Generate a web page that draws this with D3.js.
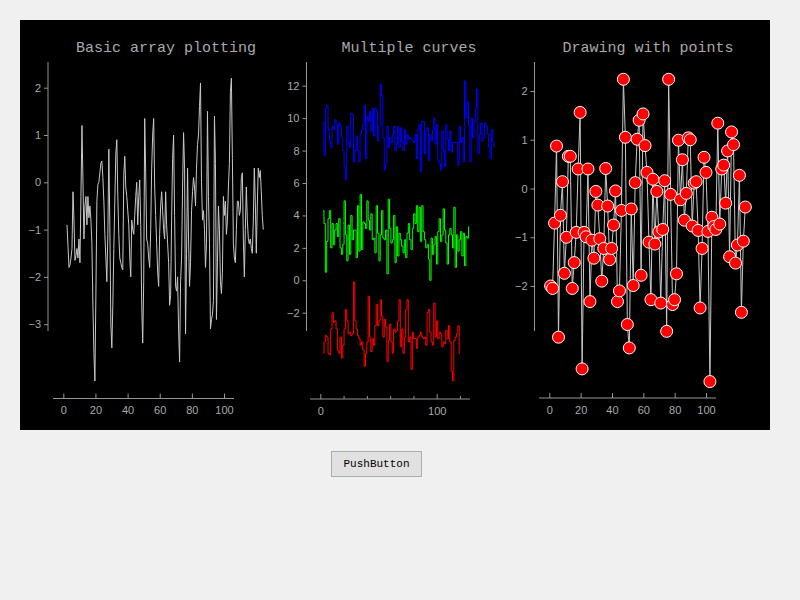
<!DOCTYPE html>
<html><head><meta charset="utf-8">
<script src="https://cdn.jsdelivr.net/npm/d3@7"></script>
<style>
body{margin:0;background:#f0f0f0;width:800px;height:600px;overflow:hidden;position:relative;font-family:"Liberation Mono",monospace}
#btn{position:absolute;left:331px;top:451px;width:89px;height:24px;border:1px solid #adadad;background:#e1e1e1;font:11px "Liberation Mono",monospace;display:flex;align-items:center;justify-content:center;color:#000}
</style></head>
<body>
<svg id="chart" width="800" height="600"></svg>
<div id="btn">PushButton</div>
<script>
// plot 1: one noisy curve, x starts at 2.3 with step 0.62
var basicY = [-0.9,-1.35,-1.8,-1.75,-1.6,-1.4,-0.2,-0.8,-1.65,-1.55,-1.4,-1.6,-1.2,-1.7,-0.3,1.2,0.05,-1.2,-0.5,-0.3,-0.9,-0.3,-0.75,-0.5,-0.8,-1.3,-2.6,-3.6,-4.2,-2.4,-0.4,-0.05,0.0,0.2,0.4,0.45,0.1,-0.4,-1.1,-1.6,-2.1,-1.1,0.7,-0.9,-3.0,-3.5,-2.6,-1.4,-0.4,0.6,0.9,-0.3,-1.1,-1.6,-1.7,-1.8,-1.85,0.15,0.55,-0.1,-0.3,-0.6,-0.9,-1.6,-2.0,-0.8,-1.0,-1.1,-0.7,-0.3,0.0,-0.9,-0.3,0.05,-0.9,-2.6,-3.4,-2.1,1.35,0.2,-1.2,-1.3,-1.6,-1.8,-1.0,0.3,1.0,1.35,-0.1,-0.7,-1.3,-1.9,-2.2,-1.1,-0.5,-0.2,-0.6,-1.0,-1.2,-0.2,-0.9,-1.3,-1.7,-2.6,-2.4,-0.8,0.5,1.0,-0.7,-2.2,-2.3,-2.0,-3.1,-3.8,-2.1,-1.6,-0.1,1.05,0.3,-3.2,-1.5,0.3,-1.2,-2.2,-1.7,-0.6,-0.2,0.1,-0.1,-0.5,0.3,0.8,1.0,1.6,2.1,0.0,-0.8,-0.6,-1.0,-1.8,-1.3,1.5,-0.3,-1.3,-3.1,-2.9,-2.8,-2.5,1.4,0.4,-2.9,-1.7,-0.5,-1.0,-2.1,-2.35,-1.9,-0.3,-0.7,-0.4,-1.1,-0.8,-0.1,0.4,1.9,2.2,0.5,-1.3,-1.6,-1.7,-1.0,-0.4,-0.4,-0.7,-0.6,0.1,0.2,-1.2,-2.0,-1.0,-0.1,-0.8,-1.2,-1.3,-1.2,-1.4,-1.5,-0.8,0.3,-0.4,-1.5,-0.5,0.3,0.1,0.25,-0.2,-0.7,-1.0];
var basicX0 = 2.3, basicStep = 0.62;

// plot 2: three curves, x starts at 2.6 with step 1.15
var blueY = [9.8,7.7,10.6,10.8,9.3,8.6,8.2,9.5,9.3,9.9,9.6,8.4,9.7,9.5,8.8,8.0,7.0,6.2,9.5,8.5,8.2,10.3,10.2,7.3,8.0,8.9,8.0,7.3,9.0,9.3,9.6,10.8,7.5,10.1,9.8,10.4,9.2,10.6,8.9,10.6,10.4,8.6,9.5,12.1,11.4,8.8,6.8,7.2,9.5,8.2,8.8,8.5,9.0,9.5,8.0,8.4,9.5,8.2,9.4,8.5,8.0,9.3,8.4,9.0,8.7,8.8,8.7,8.6,8.5,9.0,7.5,9.3,9.6,6.7,9.8,9.8,7.8,9.2,9.4,7.4,9.0,8.6,9.3,10.0,8.4,9.6,7.4,7.2,6.8,9.2,8.0,7.0,9.6,8.7,8.0,9.2,7.9,8.5,8.5,8.5,8.5,7.1,9.5,8.5,8.8,7.3,12.3,10.0,11.0,9.5,7.3,10.0,8.8,9.8,10.6,11.8,7.8,9.0,9.7,8.6,8.8,9.7,9.5,9.0,8.2,7.5,9.3,8.5,8.2];
var greenY = [4.3,3.5,0.5,2.4,3.8,4.3,2.0,3.5,2.2,3.1,3.5,2.7,3.8,2.0,1.6,2.2,4.9,2.8,1.2,3.4,1.6,4.0,2.5,3.1,3.1,1.4,4.6,1.8,5.3,1.9,3.6,3.5,3.2,4.9,3.7,3.1,4.1,2.5,2.6,1.7,4.6,2.9,1.2,2.8,4.3,2.6,2.5,3.1,0.4,5.0,3.2,2.3,2.5,4.0,1.1,3.3,1.5,2.9,2.5,2.1,1.7,2.5,1.4,2.9,3.5,2.5,1.9,3.2,4.1,3.5,4.6,3.0,4.5,2.4,4.6,3.0,2.5,2.0,2.2,1.3,0.0,2.6,1.6,2.2,2.7,1.0,3.0,3.8,2.4,2.8,4.4,3.1,2.3,1.0,2.8,3.2,2.8,2.0,4.5,0.8,2.8,1.8,2.5,3.0,1.5,2.9,0.9,2.7,2.6,3.3];
var redY = [-4.5,-3.8,-3.4,-3.5,-4.5,-4.6,-3.0,-2.0,-2.6,-2.5,-3.0,-4.3,-4.5,-3.5,-4.8,-4.0,-3.0,-1.8,-2.5,-3.3,-3.2,-3.4,-3.3,-0.1,-2.5,-3.0,-3.4,-3.6,-4.0,-3.8,-4.3,-5.3,-4.5,-3.8,-1.0,-3.5,-4.4,-3.6,-4.0,-2.8,-1.5,-2.8,-2.5,-1.2,-2.2,-3.5,-2.4,-2.9,-5.0,-3.7,-2.7,-3.8,-4.5,-3.0,-3.2,-3.1,-2.5,-1.2,-4.1,-3.0,-4.5,-3.5,-1.8,-1.2,-3.8,-3.5,-5.5,-3.2,-3.6,-3.6,-4.2,-3.5,-3.4,-3.2,-3.5,-3.6,-3.5,-4.0,-2.0,-1.8,-3.2,-3.8,-4.0,-1.4,-3.5,-2.5,-3.6,-3.2,-3.3,-4.1,-3.8,-3.9,-3.1,-3.6,-2.8,-3.8,-5.6,-6.2,-3.7,-3.5,-3.3,-2.8,-4.5];
var curvesX0 = 2.6, curvesStep = 1.15;

// plot 3: points, x starts at 0.85 with step 1.255
var pointsY = [-2.0,-2.05,-0.71,0.87,-3.05,-0.55,0.14,-1.74,-1.0,0.66,0.66,-2.05,-1.52,-0.9,0.4,1.56,-3.7,-0.9,-0.99,0.4,-2.32,-1.06,-1.43,-0.06,-0.34,-1.03,-1.9,-1.23,0.41,-0.36,-1.46,-1.23,-0.75,-0.05,-2.32,-2.1,-0.45,2.24,1.05,-2.79,-3.27,-0.42,-1.99,0.12,1.01,1.4,-1.78,1.53,0.88,0.33,-1.1,-2.28,0.19,-1.14,-0.06,-0.89,-2.35,-0.84,0.16,-2.93,2.24,-0.12,-2.38,-2.28,-1.75,0.99,-0.23,0.59,-0.65,-0.1,1.04,1.0,-0.77,0.11,0.14,-0.86,-2.45,-1.23,0.64,0.33,-0.88,-3.96,-0.59,-0.78,-0.84,1.34,-0.73,0.4,0.48,-0.3,0.77,-1.4,1.16,0.9,-1.53,-1.16,0.27,-2.54,-1.08,-0.38];
var pointsX0 = 0.85, pointsStep = 1.255;

var svg = d3.select("#chart");
svg.append("rect").attr("x", 20).attr("y", 20).attr("width", 750).attr("height", 410).attr("fill", "#000");

var axisColor = "#969696", textColor = "#aaaaaa";

function panel(opt) {
    var x = d3.scaleLinear().domain([0, 100]).range(opt.xr);
    var y = d3.scaleLinear().domain(opt.yd).range(opt.yr);
    var g = svg.append("g");

    g.append("text").attr("x", opt.titleX).attr("y", 52)
        .attr("text-anchor", "middle").attr("fill", textColor)
        .style("font-family", "Liberation Mono").style("font-size", "15px")
        .text(opt.title);

    // left axis
    var ya = g.append("g").attr("transform", "translate(" + opt.axX + ",0)")
        .call(d3.axisLeft(y).tickValues(opt.yticks).tickSize(4).tickFormat(function (d) { return d < 0 ? "\u2212" + (-d) : d; }));
    ya.select(".domain").attr("d", "M0," + 62 + "V" + 331);
    // bottom axis
    var xa = g.append("g").attr("transform", "translate(0," + opt.axY + ")")
        .call(d3.axisBottom(x).tickValues(opt.xticks).tickSize(-5).tickPadding(8));
    xa.select(".domain").attr("d", "M" + opt.xLine[0] + ",0H" + opt.xLine[1]);
    if (opt.minor) {
        g.append("g").attr("transform", "translate(0," + opt.axY + ")")
            .call(d3.axisBottom(x).tickValues(opt.minor).tickSize(-3).tickFormat(""))
            .select(".domain").remove();
    }
    g.selectAll(".domain, .tick line").attr("stroke", axisColor);
    g.selectAll(".tick text").attr("fill", textColor).style("font-family", "Liberation Sans").style("font-size", "11px");

    opt.series.forEach(function (s) {
        var line = d3.line()
            .curve(opt.stepped ? d3.curveStep : d3.curveLinear)
            .x(function (d, i) { return x(s.x0 + i * s.step); })
            .y(function (d) { return y(d); });
        g.append("path").datum(s.data).attr("d", line)
            .attr("fill", "none").attr("stroke", s.color).attr("stroke-width", 1);
        if (s.points) {
            g.selectAll(null).data(s.data).enter().append("circle")
                .attr("cx", function (d, i) { return x(s.x0 + i * s.step); })
                .attr("cy", function (d) { return y(d); })
                .attr("r", 6).attr("fill", "#ff0000").attr("stroke", "#ffffff").attr("stroke-width", 1);
        }
    });
}

panel({
    title: "Basic array plotting", titleX: 166,
    xr: [63.3, 224], yd: [0, 2], yr: [182.3, 87.7], axX: 48, axY: 398.5, xLine: [53, 234],
    yticks: [-3, -2, -1, 0, 1, 2], xticks: [0, 20, 40, 60, 80, 100],
    series: [{data: basicY, x0: basicX0, step: basicStep, color: "#c8c8c8"}]
});
panel({
    title: "Multiple curves", titleX: 409, stepped: true,
    xr: [320.3, 436.7], yd: [0, 12], yr: [280.3, 85.7], axX: 306.5, axY: 399, xLine: [310, 470],
    yticks: [-2, 0, 2, 4, 6, 8, 10, 12], xticks: [0, 100], minor: [20, 40, 60, 80, 120],
    series: [
        {data: blueY, x0: curvesX0, step: curvesStep, color: "#0000ff"},
        {data: greenY, x0: curvesX0, step: curvesStep, color: "#00ff00"},
        {data: redY, x0: curvesX0, step: curvesStep, color: "#ff0000"}
    ]
});
panel({
    title: "Drawing with points", titleX: 648,
    xr: [549.3, 706], yd: [0, 2], yr: [188.5, 91], axX: 534.5, axY: 398, xLine: [539, 716],
    yticks: [-2, -1, 0, 1, 2], xticks: [0, 20, 40, 60, 80, 100],
    series: [{data: pointsY, x0: pointsX0, step: pointsStep, color: "#c8c8c8", points: true}]
});
</script>
</body></html>
